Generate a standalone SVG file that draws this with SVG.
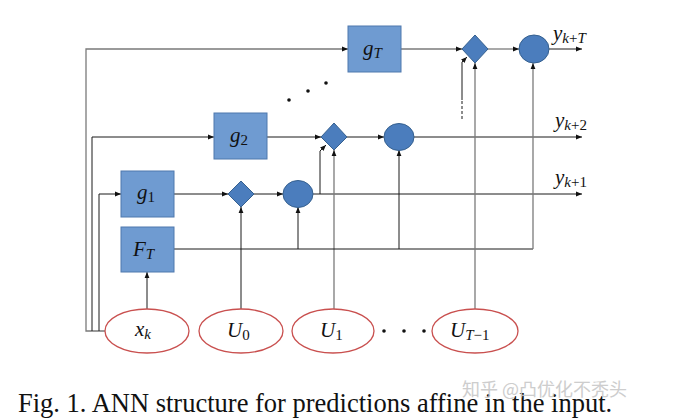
<svg xmlns="http://www.w3.org/2000/svg" width="680" height="420" viewBox="0 0 680 420">
<style>
.box{fill:#6f9bd1;stroke:#4f79ad;stroke-width:1}
.op{fill:#4b7dbd;stroke:#35608f;stroke-width:1}
.in{fill:#fff;stroke:#c9504f;stroke-width:1.3}
.ln{fill:none;stroke:#1a1a1a;stroke-width:1}
.gr{fill:none;stroke:#7a7a7a;stroke-width:1.3}
.m{font-family:"Liberation Serif","DejaVu Serif",serif;font-style:italic;fill:#111}
.s{font-family:"Liberation Serif","DejaVu Serif",serif;fill:#111}
</style>
<defs>
<marker id="ah" viewBox="0 0 10 10" refX="10" refY="5" markerWidth="6" markerHeight="6" markerUnits="userSpaceOnUse" orient="auto">
<path d="M0,1 L10,5 L0,9 z" fill="#111"/>
</marker>
</defs>
<rect width="680" height="420" fill="#fff"/>
<g id="connectors">
<path class="gr" d="M105,331 H86 V49 H348" marker-end="url(#ah)"/>
<path class="ln" d="M92,331 V137 H214" marker-end="url(#ah)"/>
<path class="ln" d="M99,331 V194 H121" marker-end="url(#ah)"/>
<path class="ln" d="M147,309 V272" marker-end="url(#ah)"/>
<path class="ln" d="M174,194 H228" marker-end="url(#ah)"/>
<path class="ln" d="M254,194 H283" marker-end="url(#ah)"/>
<path class="ln" d="M241,309 V207" marker-end="url(#ah)"/>
<path class="ln" d="M313,194 H582" marker-end="url(#ah)"/>
<path class="ln" d="M320,194 V151 L326,145" marker-end="url(#ah)"/>
<path class="ln" d="M267,137 H321" marker-end="url(#ah)"/>
<path class="gr" d="M334,309 V150" marker-end="url(#ah)"/>
<path class="ln" d="M347,137 H384" marker-end="url(#ah)"/>
<path class="ln" d="M414,137 H582" marker-end="url(#ah)"/>
<path class="ln" d="M174,249 H533"/>
<path class="ln" d="M298,249 V207" marker-end="url(#ah)"/>
<path class="ln" d="M399,249 V150" marker-end="url(#ah)"/>
<path class="gr" d="M533,249 V63" marker-end="url(#ah)"/>
<path class="gr" d="M401,49 H462" marker-end="url(#ah)"/>
<path class="gr" d="M488,49 H519" marker-end="url(#ah)"/>
<path class="ln" d="M549,49 H582" marker-end="url(#ah)"/>
<path class="gr" d="M475,309 V63" marker-end="url(#ah)"/>
<path class="ln" d="M462,119 V100" stroke-dasharray="3,2"/>
<path class="ln" d="M462,100 V62 L467,57" marker-end="url(#ah)"/>
</g>
<g id="gT"><rect class="box" x="348" y="26" width="53" height="46"/><text class="m" x="363" y="55" font-size="21">g<tspan font-size="15" dy="3">T</tspan></text></g>
<g id="g2"><rect class="box" x="214" y="113" width="53" height="46"/><text class="m" x="230" y="142" font-size="21">g<tspan class="s" font-style="normal" font-size="15" dy="3">2</tspan></text></g>
<g id="g1"><rect class="box" x="121" y="171" width="53" height="46"/><text class="m" x="137" y="199" font-size="21">g<tspan font-style="normal" font-size="15" dy="3">1</tspan></text></g>
<g id="FT"><rect class="box" x="121" y="227" width="53" height="45"/><text class="m" x="133" y="256" font-size="21">F<tspan font-size="15" dy="3">T</tspan></text></g>
<g id="d1"><path class="op" d="M241,181 L254,194 L241,207 L228,194 z"/></g>
<g id="c1"><ellipse class="op" cx="298" cy="194" rx="15" ry="13.5"/></g>
<g id="d2"><path class="op" d="M334,123 L347,137 L334,150 L321,137 z"/></g>
<g id="c2"><ellipse class="op" cx="399" cy="137" rx="15" ry="13.5"/></g>
<g id="d3"><path class="op" d="M475,35 L488,49 L475,63 L462,49 z"/></g>
<g id="c3"><ellipse class="op" cx="534" cy="49" rx="15" ry="14"/></g>
<g id="dots1" fill="#111"><circle cx="289" cy="100" r="1.8"/><circle cx="308" cy="91" r="1.8"/><circle cx="326" cy="83" r="1.8"/></g>
<g id="xk"><ellipse class="in" cx="147" cy="331" rx="42" ry="22"/><text class="m" x="135" y="336" font-size="21">x<tspan font-size="15" dy="3">k</tspan></text></g>
<g id="U0"><ellipse class="in" cx="241" cy="331" rx="42" ry="22"/><text class="m" x="227" y="337" font-size="21">U<tspan font-style="normal" font-size="15" dy="3">0</tspan></text></g>
<g id="U1"><ellipse class="in" cx="333" cy="331" rx="41" ry="22"/><text class="m" x="320" y="337" font-size="21">U<tspan font-style="normal" font-size="15" dy="3">1</tspan></text></g>
<g id="dots2" fill="#111"><circle cx="384" cy="331" r="1.8"/><circle cx="404" cy="331" r="1.8"/><circle cx="424" cy="331" r="1.8"/></g>
<g id="UT1"><ellipse class="in" cx="475" cy="331" rx="43" ry="22"/><text class="m" x="450" y="337" font-size="21">U<tspan font-size="15" dy="3">T</tspan><tspan class="s" font-style="normal" font-size="15">−1</tspan></text></g>
<g id="labels">
<text class="m" x="553" y="40" font-size="21">y<tspan font-size="15" dy="3">k</tspan><tspan class="s" font-style="normal" font-size="15">+</tspan><tspan font-size="15">T</tspan></text>
<text class="m" x="555" y="127" font-size="21">y<tspan font-size="15" dy="3">k</tspan><tspan class="s" font-style="normal" font-size="15">+2</tspan></text>
<text class="m" x="555" y="184" font-size="21">y<tspan font-size="15" dy="3">k</tspan><tspan class="s" font-style="normal" font-size="15">+1</tspan></text>
</g>
<text class="s" x="18" y="412" font-size="26.5">Fig. 1. ANN structure for predictions affine in the input.</text>
<text x="462" y="396" font-size="18" fill="#c8c8c8" font-family="'Noto Sans CJK SC',sans-serif" opacity="0.9">知乎 @凸优化不秃头</text>
</svg>
